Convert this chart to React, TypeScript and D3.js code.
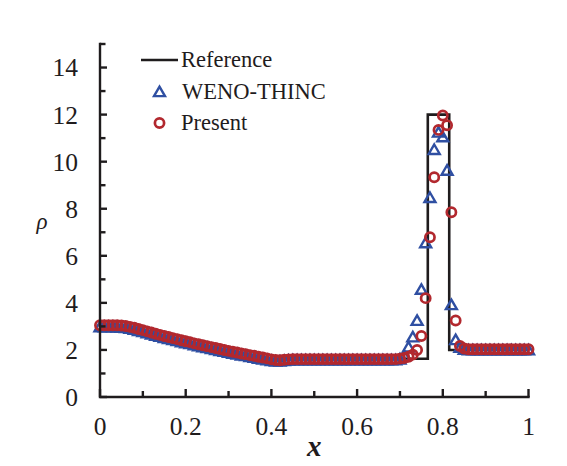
import { useEffect } from 'react';
import * as d3 from 'd3';

// grid of sample points, x = 0 .. 1 step 0.01
const xs = d3.range(0, 101).map(i => i / 100);

const present = [
  3.05, 3.05, 3.05, 3.05, 3.05, 3.04, 3.02, 2.98, 2.94, 2.89,
  2.84, 2.79, 2.74, 2.69, 2.64, 2.59, 2.55, 2.5, 2.46, 2.41,
  2.37, 2.33, 2.28, 2.24, 2.2, 2.16, 2.12, 2.08, 2.04, 2.0,
  1.96, 1.92, 1.89, 1.85, 1.82, 1.78, 1.75, 1.71, 1.68, 1.64,
  1.6, 1.57, 1.56, 1.58, 1.6, 1.61, 1.61, 1.61, 1.61, 1.61,
  1.61, 1.61, 1.61, 1.61, 1.61, 1.61, 1.61, 1.61, 1.61, 1.61,
  1.61, 1.61, 1.61, 1.61, 1.61, 1.61, 1.61, 1.61, 1.61, 1.61,
  1.63, 1.66, 1.71, 1.8, 2.0, 2.59, 4.2, 6.79, 9.34, 11.35,
  11.96, 11.55, 7.85, 3.25, 2.17, 2.06, 2.03, 2.03, 2.03, 2.03,
  2.03, 2.03, 2.03, 2.03, 2.03, 2.03, 2.03, 2.03, 2.03, 2.03,
  2.03,
];

const wenoThinc = [
  2.93, 2.93, 2.93, 2.93, 2.92, 2.91, 2.89, 2.86, 2.82, 2.77,
  2.72, 2.67, 2.62, 2.57, 2.52, 2.47, 2.43, 2.38, 2.34, 2.29,
  2.25, 2.21, 2.16, 2.12, 2.08, 2.04, 2.0, 1.96, 1.92, 1.88,
  1.84, 1.8, 1.77, 1.73, 1.7, 1.66, 1.63, 1.59, 1.56, 1.52,
  1.49, 1.47, 1.47, 1.49, 1.51, 1.52, 1.52, 1.52, 1.52, 1.52,
  1.52, 1.52, 1.52, 1.52, 1.52, 1.52, 1.52, 1.52, 1.52, 1.52,
  1.52, 1.52, 1.52, 1.52, 1.52, 1.52, 1.52, 1.52, 1.52, 1.52,
  1.56, 1.7, 2.07, 2.5, 3.2, 4.52, 6.5, 8.42, 10.46, 11.2,
  11.0, 9.58, 3.87, 2.38, 2.05, 1.97, 1.95, 1.95, 1.95, 1.95,
  1.95, 1.95, 1.95, 1.95, 1.95, 1.95, 1.95, 1.95, 1.95, 1.95,
  1.95,
];

// reference solution breakpoints
const refX = [0, 0.06, 0.1, 0.2, 0.3, 0.4, 0.42, 0.44, 0.765, 0.765, 0.815, 0.815, 1];
const refY = [3.0, 3.0, 2.8, 2.35, 1.93, 1.57, 1.56, 1.62, 1.63, 12, 12, 2.0, 2.0];

const xTicks = d3.range(0, 11).map(i => i / 10);
const xLabels = ['0', '0.2', '0.4', '0.6', '0.8', '1'];
const yTicks = d3.range(0, 16);
const yLabels = [0, 2, 4, 6, 8, 10, 12, 14];

const W = 567;
const H = 466;
const BLUE = '#2f4fa2';
const RED = '#b2282e';
const INK = '#1f1c1d';
const FONT = 'Liberation Serif';

const x = d3.scaleLinear([0, 1], [100, 528.5]);
const y = d3.scaleLinear([0, 15], [397, 44]);

const App = () => {
  useEffect(() => {
    document.body.style.margin = '0';
  }, []);

  const refLine = d3
    .line<number>()
    .x(i => x(refX[i]))
    .y(i => y(refY[i]))(d3.range(refX.length));

  const tri = d3.symbol(d3.symbolTriangle, 52)() as string;

  return (
    <svg width={W} height={H} viewBox={`0 0 ${W} ${H}`} style={{ display: 'block', background: '#fff' }}>
      {/* reference */}
      <path d={refLine ?? ''} fill="none" stroke={INK} strokeWidth={2.6} strokeLinejoin="miter" />

      {/* WENO-THINC */}
      {xs.map((v, i) => (
        <path key={`t${i}`} d={tri} transform={`translate(${x(v)},${y(wenoThinc[i])})`} fill="none" stroke={BLUE} strokeWidth={2.4} />
      ))}

      {/* Present */}
      {xs.map((v, i) => (
        <circle key={`c${i}`} cx={x(v)} cy={y(present[i])} r={4.6} fill="none" stroke={RED} strokeWidth={2.7} />
      ))}

      {/* axes */}
      <g stroke={INK} strokeWidth={2.4} fill="none">
        <path d={`M${x(0)},${y(15)}V${y(0)}H${x(1)}`} strokeLinecap="square" />
        {xTicks.map((t, i) => (
          <line key={`xt${i}`} x1={x(t)} x2={x(t)} y1={y(0)} y2={y(0) - (i % 2 === 0 ? 8 : 6)} />
        ))}
        {yTicks.map(t => (
          <line key={`yt${t}`} x1={x(0)} x2={x(0) + (t % 2 === 0 ? 7 : 5.5)} y1={y(t)} y2={y(t)} />
        ))}
      </g>

      <g fill={INK} style={{ fontFamily: FONT, fontSize: 25.5 }}>
        {yLabels.map(t => (
          <text key={`yl${t}`} x={78} y={y(t)} dy="0.35em" textAnchor="end">
            {t}
          </text>
        ))}
        {xLabels.map((l, i) => (
          <text key={`xl${i}`} x={x(i * 0.2)} y={435} textAnchor="middle">
            {l}
          </text>
        ))}
      </g>

      <text x={x(0.5)} y={456} textAnchor="middle" fill={INK} style={{ fontFamily: FONT, fontSize: 29, fontWeight: 'bold', fontStyle: 'italic' }}>
        x
      </text>
      <text x={42} y={y(7.5)} dy="0.35em" textAnchor="middle" fill={INK} style={{ fontFamily: FONT, fontSize: 23, fontStyle: 'italic' }}>
        ρ
      </text>

      {/* legend */}
      <g fill={INK} style={{ fontFamily: FONT, fontSize: 22.5 }}>
        <line x1={141} x2={178} y1={60} y2={60} stroke={INK} strokeWidth={2.6} />
        <text x={181} y={67}>Reference</text>
        <path d={tri} transform="translate(159.5,93)" fill="none" stroke={BLUE} strokeWidth={2.4} />
        <text x={182} y={98.5}>WENO-THINC</text>
        <circle cx={159.5} cy={123} r={4.6} fill="none" stroke={RED} strokeWidth={2.7} />
        <text x={181} y={130}>Present</text>
      </g>
    </svg>
  );
};

export default App;
